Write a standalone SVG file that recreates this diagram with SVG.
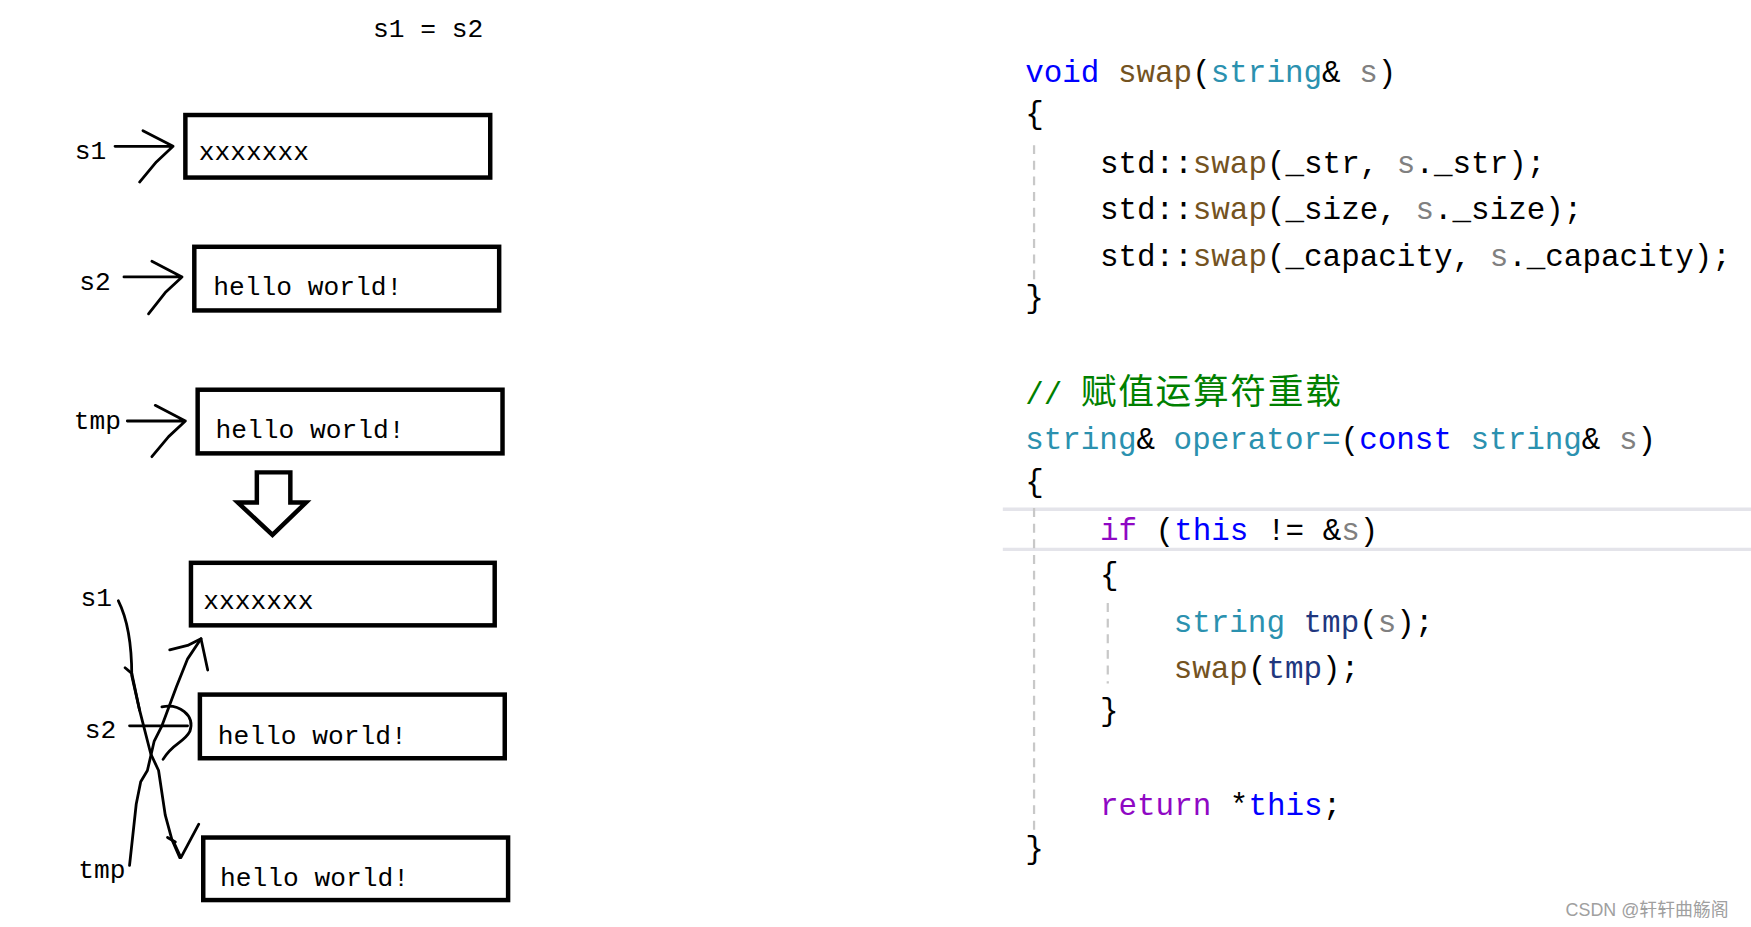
<svg xmlns="http://www.w3.org/2000/svg" width="1751" height="927" viewBox="0 0 1751 927">
<style>
.t{font-family:"Liberation Mono",monospace;font-size:23.5px;fill:#000}
.c{font-family:"Liberation Mono","Noto Sans CJK SC",monospace;font-size:27.7px;fill:#000}
.box{fill:none;stroke:#000;stroke-width:4}
.h{fill:none;stroke:#000;stroke-width:2.5;stroke-linejoin:round;stroke-linecap:round}
.g{stroke:#c8c8c8;stroke-width:2;stroke-dasharray:8 6}
.kw{fill:#0000ff}.fn{fill:#74531f}.ty{fill:#2b91af}.pa{fill:#808080}.cm{fill:#008000}.ct{fill:#8f08c4}.lv{fill:#1f377f}
</style>
<rect width="1751" height="927" fill="#fff"/>
<g transform="scale(1.1167)">
<text class="t" x="334" y="33">s1 = s2</text>
<g id="n1"><rect class="box" x="166" y="103" width="273" height="56"/><text class="t" x="178" y="143">xxxxxxx</text></g>
<g id="n2"><rect class="box" x="174" y="221" width="273" height="57"/><text class="t" x="191" y="264">hello world!</text></g>
<g id="n3"><rect class="box" x="177" y="349" width="273" height="57"/><text class="t" x="193" y="392">hello world!</text></g>
<g id="n4"><rect class="box" x="171" y="504" width="272" height="56"/><text class="t" x="182" y="545">xxxxxxx</text></g>
<g id="n5"><rect class="box" x="179" y="622" width="273" height="57"/><text class="t" x="195" y="666">hello world!</text></g>
<g id="n6"><rect class="box" x="182" y="750" width="273" height="56"/><text class="t" x="197" y="793">hello world!</text></g>
<text class="t" x="67" y="142">s1</text>
<text class="t" x="71" y="260">s2</text>
<text class="t" x="66" y="384">tmp</text>
<text class="t" x="72" y="543">s1</text>
<text class="t" x="76" y="661">s2</text>
<text class="t" x="70" y="786">tmp</text>
<g id="connectors">
<path class="h" d="M103,131 L155,131 M128,117 L155,131 L140,145 L125,163"/>
<path class="h" d="M111,248 L163,248 M136,234 L163,248 L148,262 L133,281"/>
<path class="h" d="M114,377 L166,377 M139,363 L166,377 L151,391 L136,409"/>
<polygon points="230,423 260,423 260,450 274,450 244,479 213,450 230,450" fill="none" stroke="#000" stroke-width="4" stroke-linejoin="miter"/>
<path class="h" d="M112,598 L118,603 L125,636 L135,675 L142,690 L148,730 L154,752 L161,768"/>
<path class="h" d="M106,538 C115,556 118,580 118,605 L125,636"/>
<path class="h" d="M155,753 L162,768 L178,738 M150,750 L157,754"/>
<path class="h" d="M116,775 L122,720 L126,700 L132,690 L138,664 L145,650 L158,615 L168,590 L180,572"/>
<path class="h" d="M152,582 L168,578 L180,572 L186,600"/>
<path class="h" d="M116,650 L168,650 M145,633 C160,630 175,640 170,655 C165,665 155,665 146,680"/>
</g>
<line x1="898" y1="456" x2="1568" y2="456" stroke="#e4e4ea" stroke-width="3"/>
<line x1="898" y1="492" x2="1568" y2="492" stroke="#e4e4ea" stroke-width="3"/>
<line class="g" x1="926" y1="130" x2="926" y2="265"/>
<line class="g" x1="926" y1="455" x2="926" y2="750"/>
<line class="g" x1="992" y1="540" x2="992" y2="612"/>
<text class="c" x="918" y="73"><tspan class="kw">void</tspan> <tspan class="fn">swap</tspan>(<tspan class="ty">string</tspan>&amp; <tspan class="pa">s</tspan>)</text>
<text class="c" x="918" y="110">{</text>
<text class="c" x="985" y="155">std::<tspan class="fn">swap</tspan>(_str, <tspan class="pa">s</tspan>._str);</text>
<text class="c" x="985" y="196">std::<tspan class="fn">swap</tspan>(_size, <tspan class="pa">s</tspan>._size);</text>
<text class="c" x="985" y="238">std::<tspan class="fn">swap</tspan>(_capacity, <tspan class="pa">s</tspan>._capacity);</text>
<text class="c" x="918" y="275">}</text>
<text class="c cm" x="918" y="362">// <tspan font-size="32" letter-spacing="1.5">赋值运算符重载</tspan></text>
<text class="c" x="918" y="402"><tspan class="ty">string</tspan>&amp; <tspan class="ty">operator=</tspan>(<tspan class="kw">const</tspan> <tspan class="ty">string</tspan>&amp; <tspan class="pa">s</tspan>)</text>
<text class="c" x="918" y="440">{</text>
<text class="c" x="985" y="484"><tspan class="ct">if</tspan> (<tspan class="kw">this</tspan> != &amp;<tspan class="pa">s</tspan>)</text>
<text class="c" x="985" y="523">{</text>
<text class="c" x="1051" y="566"><tspan class="ty">string</tspan> <tspan class="lv">tmp</tspan>(<tspan class="pa">s</tspan>);</text>
<text class="c" x="1051" y="607"><tspan class="fn">swap</tspan>(<tspan class="lv">tmp</tspan>);</text>
<text class="c" x="985" y="645">}</text>
<text class="c" x="985" y="730"><tspan class="ct">return</tspan> *<tspan class="kw">this</tspan>;</text>
<text class="c" x="918" y="768">}</text>
<text x="1402" y="820" font-family="'Liberation Sans','Noto Sans CJK SC',sans-serif" font-size="16" fill="#a0a0a0">CSDN @轩轩曲觞阁</text>
</g>
</svg>
